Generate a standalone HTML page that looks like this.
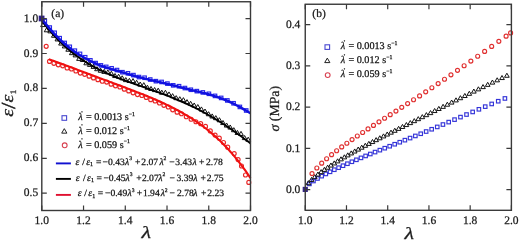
<!DOCTYPE html>
<html><head><meta charset="utf-8"><style>
html,body{margin:0;padding:0;background:#fff;width:520px;height:240px;overflow:hidden}
svg{display:block}
text{stroke:#1a1a1a;stroke-width:0.25px;paint-order:stroke;text-rendering:geometricPrecision}
</style></head><body>
<svg width="520" height="240" viewBox="0 0 520 240"><rect width="520" height="240" fill="#fff"/><g><rect x="43.05" y="19.27" width="3.5" height="3.5" fill="none" stroke="#2828e8" stroke-width="1.15"/><rect x="47.97" y="25.81" width="3.5" height="3.5" fill="none" stroke="#2828e8" stroke-width="1.15"/><rect x="52.92" y="31.04" width="3.5" height="3.5" fill="none" stroke="#2828e8" stroke-width="1.15"/><rect x="57.92" y="36.42" width="3.5" height="3.5" fill="none" stroke="#2828e8" stroke-width="1.15"/><rect x="62.94" y="41.22" width="3.5" height="3.5" fill="none" stroke="#2828e8" stroke-width="1.15"/><rect x="68.00" y="45.06" width="3.5" height="3.5" fill="none" stroke="#2828e8" stroke-width="1.15"/><rect x="73.10" y="48.93" width="3.5" height="3.5" fill="none" stroke="#2828e8" stroke-width="1.15"/><rect x="78.24" y="52.15" width="3.5" height="3.5" fill="none" stroke="#2828e8" stroke-width="1.15"/><rect x="83.41" y="55.50" width="3.5" height="3.5" fill="none" stroke="#2828e8" stroke-width="1.15"/><rect x="88.62" y="58.57" width="3.5" height="3.5" fill="none" stroke="#2828e8" stroke-width="1.15"/><rect x="93.87" y="61.34" width="3.5" height="3.5" fill="none" stroke="#2828e8" stroke-width="1.15"/><rect x="99.16" y="63.63" width="3.5" height="3.5" fill="none" stroke="#2828e8" stroke-width="1.15"/><rect x="104.48" y="65.14" width="3.5" height="3.5" fill="none" stroke="#2828e8" stroke-width="1.15"/><rect x="109.84" y="66.55" width="3.5" height="3.5" fill="none" stroke="#2828e8" stroke-width="1.15"/><rect x="115.25" y="68.32" width="3.5" height="3.5" fill="none" stroke="#2828e8" stroke-width="1.15"/><rect x="120.69" y="70.46" width="3.5" height="3.5" fill="none" stroke="#2828e8" stroke-width="1.15"/><rect x="126.17" y="71.56" width="3.5" height="3.5" fill="none" stroke="#2828e8" stroke-width="1.15"/><rect x="131.68" y="73.37" width="3.5" height="3.5" fill="none" stroke="#2828e8" stroke-width="1.15"/><rect x="137.24" y="75.30" width="3.5" height="3.5" fill="none" stroke="#2828e8" stroke-width="1.15"/><rect x="142.84" y="75.99" width="3.5" height="3.5" fill="none" stroke="#2828e8" stroke-width="1.15"/><rect x="148.48" y="77.78" width="3.5" height="3.5" fill="none" stroke="#2828e8" stroke-width="1.15"/><rect x="154.16" y="79.42" width="3.5" height="3.5" fill="none" stroke="#2828e8" stroke-width="1.15"/><rect x="159.88" y="80.21" width="3.5" height="3.5" fill="none" stroke="#2828e8" stroke-width="1.15"/><rect x="165.64" y="81.86" width="3.5" height="3.5" fill="none" stroke="#2828e8" stroke-width="1.15"/><rect x="171.45" y="83.59" width="3.5" height="3.5" fill="none" stroke="#2828e8" stroke-width="1.15"/><rect x="177.29" y="84.47" width="3.5" height="3.5" fill="none" stroke="#2828e8" stroke-width="1.15"/><rect x="183.18" y="86.31" width="3.5" height="3.5" fill="none" stroke="#2828e8" stroke-width="1.15"/><rect x="189.11" y="88.01" width="3.5" height="3.5" fill="none" stroke="#2828e8" stroke-width="1.15"/><rect x="195.08" y="89.39" width="3.5" height="3.5" fill="none" stroke="#2828e8" stroke-width="1.15"/><rect x="201.10" y="90.67" width="3.5" height="3.5" fill="none" stroke="#2828e8" stroke-width="1.15"/><rect x="207.16" y="92.05" width="3.5" height="3.5" fill="none" stroke="#2828e8" stroke-width="1.15"/><rect x="213.26" y="94.14" width="3.5" height="3.5" fill="none" stroke="#2828e8" stroke-width="1.15"/><rect x="219.41" y="96.17" width="3.5" height="3.5" fill="none" stroke="#2828e8" stroke-width="1.15"/><rect x="225.60" y="98.68" width="3.5" height="3.5" fill="none" stroke="#2828e8" stroke-width="1.15"/><rect x="231.83" y="101.52" width="3.5" height="3.5" fill="none" stroke="#2828e8" stroke-width="1.15"/><rect x="238.12" y="105.18" width="3.5" height="3.5" fill="none" stroke="#2828e8" stroke-width="1.15"/><rect x="244.44" y="108.73" width="3.5" height="3.5" fill="none" stroke="#2828e8" stroke-width="1.15"/><path d="M43.00,22.51 L45.35,26.58 L40.65,26.58 Z" fill="none" stroke="#111" stroke-width="1.0"/><path d="M46.60,27.73 L48.95,31.80 L44.25,31.80 Z" fill="none" stroke="#111" stroke-width="1.0"/><path d="M50.20,28.79 L52.55,32.86 L47.85,32.86 Z" fill="none" stroke="#111" stroke-width="1.0"/><path d="M53.80,33.19 L56.15,37.26 L51.45,37.26 Z" fill="none" stroke="#111" stroke-width="1.0"/><path d="M57.40,36.85 L59.75,40.92 L55.05,40.92 Z" fill="none" stroke="#111" stroke-width="1.0"/><path d="M61.00,40.99 L63.35,45.06 L58.65,45.06 Z" fill="none" stroke="#111" stroke-width="1.0"/><path d="M64.60,43.84 L66.95,47.91 L62.25,47.91 Z" fill="none" stroke="#111" stroke-width="1.0"/><path d="M68.20,47.16 L70.55,51.23 L65.85,51.23 Z" fill="none" stroke="#111" stroke-width="1.0"/><path d="M71.80,50.59 L74.15,54.66 L69.45,54.66 Z" fill="none" stroke="#111" stroke-width="1.0"/><path d="M75.40,52.82 L77.75,56.89 L73.05,56.89 Z" fill="none" stroke="#111" stroke-width="1.0"/><path d="M79.00,56.31 L81.35,60.38 L76.65,60.38 Z" fill="none" stroke="#111" stroke-width="1.0"/><path d="M82.60,57.44 L84.95,61.51 L80.25,61.51 Z" fill="none" stroke="#111" stroke-width="1.0"/><path d="M86.20,60.74 L88.55,64.81 L83.85,64.81 Z" fill="none" stroke="#111" stroke-width="1.0"/><path d="M89.80,62.32 L92.15,66.39 L87.45,66.39 Z" fill="none" stroke="#111" stroke-width="1.0"/><path d="M93.40,64.35 L95.75,68.42 L91.05,68.42 Z" fill="none" stroke="#111" stroke-width="1.0"/><path d="M97.00,66.64 L99.35,70.71 L94.65,70.71 Z" fill="none" stroke="#111" stroke-width="1.0"/><path d="M100.60,68.18 L102.95,72.25 L98.25,72.25 Z" fill="none" stroke="#111" stroke-width="1.0"/><path d="M104.20,69.35 L106.55,73.42 L101.85,73.42 Z" fill="none" stroke="#111" stroke-width="1.0"/><path d="M107.80,69.87 L110.15,73.94 L105.45,73.94 Z" fill="none" stroke="#111" stroke-width="1.0"/><path d="M111.40,71.23 L113.75,75.30 L109.05,75.30 Z" fill="none" stroke="#111" stroke-width="1.0"/><path d="M115.00,73.48 L117.35,77.55 L112.65,77.55 Z" fill="none" stroke="#111" stroke-width="1.0"/><path d="M118.60,74.21 L120.95,78.28 L116.25,78.28 Z" fill="none" stroke="#111" stroke-width="1.0"/><path d="M122.20,75.76 L124.55,79.83 L119.85,79.83 Z" fill="none" stroke="#111" stroke-width="1.0"/><path d="M125.80,77.57 L128.15,81.64 L123.45,81.64 Z" fill="none" stroke="#111" stroke-width="1.0"/><path d="M129.40,78.39 L131.75,82.46 L127.05,82.46 Z" fill="none" stroke="#111" stroke-width="1.0"/><path d="M133.00,78.54 L135.35,82.61 L130.65,82.61 Z" fill="none" stroke="#111" stroke-width="1.0"/><path d="M136.60,80.26 L138.95,84.33 L134.25,84.33 Z" fill="none" stroke="#111" stroke-width="1.0"/><path d="M140.20,82.03 L142.55,86.10 L137.85,86.10 Z" fill="none" stroke="#111" stroke-width="1.0"/><path d="M143.80,82.64 L146.15,86.71 L141.45,86.71 Z" fill="none" stroke="#111" stroke-width="1.0"/><path d="M147.40,85.20 L149.75,89.27 L145.05,89.27 Z" fill="none" stroke="#111" stroke-width="1.0"/><path d="M151.00,86.43 L153.35,90.50 L148.65,90.50 Z" fill="none" stroke="#111" stroke-width="1.0"/><path d="M154.60,87.53 L156.95,91.60 L152.25,91.60 Z" fill="none" stroke="#111" stroke-width="1.0"/><path d="M158.20,88.15 L160.55,92.22 L155.85,92.22 Z" fill="none" stroke="#111" stroke-width="1.0"/><path d="M161.80,90.14 L164.15,94.21 L159.45,94.21 Z" fill="none" stroke="#111" stroke-width="1.0"/><path d="M165.40,90.22 L167.75,94.29 L163.05,94.29 Z" fill="none" stroke="#111" stroke-width="1.0"/><path d="M169.00,91.93 L171.35,96.00 L166.65,96.00 Z" fill="none" stroke="#111" stroke-width="1.0"/><path d="M172.60,93.64 L174.95,97.71 L170.25,97.71 Z" fill="none" stroke="#111" stroke-width="1.0"/><path d="M176.20,95.61 L178.55,99.68 L173.85,99.68 Z" fill="none" stroke="#111" stroke-width="1.0"/><path d="M179.80,96.68 L182.15,100.75 L177.45,100.75 Z" fill="none" stroke="#111" stroke-width="1.0"/><path d="M183.40,97.62 L185.75,101.69 L181.05,101.69 Z" fill="none" stroke="#111" stroke-width="1.0"/><path d="M187.00,99.62 L189.35,103.69 L184.65,103.69 Z" fill="none" stroke="#111" stroke-width="1.0"/><path d="M190.60,101.27 L192.95,105.34 L188.25,105.34 Z" fill="none" stroke="#111" stroke-width="1.0"/><path d="M194.20,102.98 L196.55,107.05 L191.85,107.05 Z" fill="none" stroke="#111" stroke-width="1.0"/><path d="M197.80,104.54 L200.15,108.61 L195.45,108.61 Z" fill="none" stroke="#111" stroke-width="1.0"/><path d="M201.40,106.90 L203.75,110.97 L199.05,110.97 Z" fill="none" stroke="#111" stroke-width="1.0"/><path d="M205.00,109.00 L207.35,113.07 L202.65,113.07 Z" fill="none" stroke="#111" stroke-width="1.0"/><path d="M208.60,111.69 L210.95,115.76 L206.25,115.76 Z" fill="none" stroke="#111" stroke-width="1.0"/><path d="M212.20,113.90 L214.55,117.97 L209.85,117.97 Z" fill="none" stroke="#111" stroke-width="1.0"/><path d="M215.80,115.62 L218.15,119.69 L213.45,119.69 Z" fill="none" stroke="#111" stroke-width="1.0"/><path d="M219.40,117.68 L221.75,121.75 L217.05,121.75 Z" fill="none" stroke="#111" stroke-width="1.0"/><path d="M223.00,120.48 L225.35,124.55 L220.65,124.55 Z" fill="none" stroke="#111" stroke-width="1.0"/><path d="M226.60,122.99 L228.95,127.06 L224.25,127.06 Z" fill="none" stroke="#111" stroke-width="1.0"/><path d="M230.20,124.98 L232.55,129.05 L227.85,129.05 Z" fill="none" stroke="#111" stroke-width="1.0"/><path d="M233.80,127.65 L236.15,131.72 L231.45,131.72 Z" fill="none" stroke="#111" stroke-width="1.0"/><path d="M237.40,130.42 L239.75,134.49 L235.05,134.49 Z" fill="none" stroke="#111" stroke-width="1.0"/><path d="M241.00,131.38 L243.35,135.45 L238.65,135.45 Z" fill="none" stroke="#111" stroke-width="1.0"/><path d="M244.60,135.53 L246.95,139.60 L242.25,139.60 Z" fill="none" stroke="#111" stroke-width="1.0"/><path d="M248.20,137.15 L250.55,141.22 L245.85,141.22 Z" fill="none" stroke="#111" stroke-width="1.0"/><circle cx="49.50" cy="61.43" r="2.0" fill="none" stroke="#e82828" stroke-width="1.15"/><circle cx="53.90" cy="63.31" r="2.0" fill="none" stroke="#e82828" stroke-width="1.15"/><circle cx="58.30" cy="64.82" r="2.0" fill="none" stroke="#e82828" stroke-width="1.15"/><circle cx="62.70" cy="65.86" r="2.0" fill="none" stroke="#e82828" stroke-width="1.15"/><circle cx="67.10" cy="67.99" r="2.0" fill="none" stroke="#e82828" stroke-width="1.15"/><circle cx="71.50" cy="69.04" r="2.0" fill="none" stroke="#e82828" stroke-width="1.15"/><circle cx="75.90" cy="70.96" r="2.0" fill="none" stroke="#e82828" stroke-width="1.15"/><circle cx="80.30" cy="73.06" r="2.0" fill="none" stroke="#e82828" stroke-width="1.15"/><circle cx="84.70" cy="74.32" r="2.0" fill="none" stroke="#e82828" stroke-width="1.15"/><circle cx="89.10" cy="76.14" r="2.0" fill="none" stroke="#e82828" stroke-width="1.15"/><circle cx="93.50" cy="77.91" r="2.0" fill="none" stroke="#e82828" stroke-width="1.15"/><circle cx="97.90" cy="79.64" r="2.0" fill="none" stroke="#e82828" stroke-width="1.15"/><circle cx="102.30" cy="81.21" r="2.0" fill="none" stroke="#e82828" stroke-width="1.15"/><circle cx="106.70" cy="82.09" r="2.0" fill="none" stroke="#e82828" stroke-width="1.15"/><circle cx="111.10" cy="84.14" r="2.0" fill="none" stroke="#e82828" stroke-width="1.15"/><circle cx="115.50" cy="85.81" r="2.0" fill="none" stroke="#e82828" stroke-width="1.15"/><circle cx="119.90" cy="87.04" r="2.0" fill="none" stroke="#e82828" stroke-width="1.15"/><circle cx="124.30" cy="89.17" r="2.0" fill="none" stroke="#e82828" stroke-width="1.15"/><circle cx="128.70" cy="90.90" r="2.0" fill="none" stroke="#e82828" stroke-width="1.15"/><circle cx="133.10" cy="92.80" r="2.0" fill="none" stroke="#e82828" stroke-width="1.15"/><circle cx="137.50" cy="94.61" r="2.0" fill="none" stroke="#e82828" stroke-width="1.15"/><circle cx="141.90" cy="95.52" r="2.0" fill="none" stroke="#e82828" stroke-width="1.15"/><circle cx="146.30" cy="97.39" r="2.0" fill="none" stroke="#e82828" stroke-width="1.15"/><circle cx="150.70" cy="99.63" r="2.0" fill="none" stroke="#e82828" stroke-width="1.15"/><circle cx="155.10" cy="100.97" r="2.0" fill="none" stroke="#e82828" stroke-width="1.15"/><circle cx="159.50" cy="102.98" r="2.0" fill="none" stroke="#e82828" stroke-width="1.15"/><circle cx="163.90" cy="105.33" r="2.0" fill="none" stroke="#e82828" stroke-width="1.15"/><circle cx="168.30" cy="107.01" r="2.0" fill="none" stroke="#e82828" stroke-width="1.15"/><circle cx="172.70" cy="109.80" r="2.0" fill="none" stroke="#e82828" stroke-width="1.15"/><circle cx="177.10" cy="112.16" r="2.0" fill="none" stroke="#e82828" stroke-width="1.15"/><circle cx="181.50" cy="113.74" r="2.0" fill="none" stroke="#e82828" stroke-width="1.15"/><circle cx="186.30" cy="116.79" r="2.0" fill="none" stroke="#e82828" stroke-width="1.15"/><circle cx="191.10" cy="119.22" r="2.0" fill="none" stroke="#e82828" stroke-width="1.15"/><circle cx="195.90" cy="121.76" r="2.0" fill="none" stroke="#e82828" stroke-width="1.15"/><circle cx="200.70" cy="123.64" r="2.0" fill="none" stroke="#e82828" stroke-width="1.15"/><circle cx="205.50" cy="126.43" r="2.0" fill="none" stroke="#e82828" stroke-width="1.15"/><circle cx="210.30" cy="130.94" r="2.0" fill="none" stroke="#e82828" stroke-width="1.15"/><circle cx="215.10" cy="135.06" r="2.0" fill="none" stroke="#e82828" stroke-width="1.15"/><circle cx="219.30" cy="138.19" r="2.0" fill="none" stroke="#e82828" stroke-width="1.15"/><circle cx="223.50" cy="142.52" r="2.0" fill="none" stroke="#e82828" stroke-width="1.15"/><circle cx="227.70" cy="147.15" r="2.0" fill="none" stroke="#e82828" stroke-width="1.15"/><circle cx="46.20" cy="46.30" r="2.0" fill="none" stroke="#e82828" stroke-width="1.15"/><circle cx="234.20" cy="153.60" r="2.0" fill="none" stroke="#e82828" stroke-width="1.15"/><circle cx="238.10" cy="159.60" r="2.0" fill="none" stroke="#e82828" stroke-width="1.15"/><circle cx="241.50" cy="166.00" r="2.0" fill="none" stroke="#e82828" stroke-width="1.15"/><circle cx="245.50" cy="175.00" r="2.0" fill="none" stroke="#e82828" stroke-width="1.15"/><circle cx="248.80" cy="182.40" r="2.0" fill="none" stroke="#e82828" stroke-width="1.15"/></g><path d="M41.80,20.51 L43.55,22.86 L45.31,25.14 L47.06,27.35 L48.82,29.49 L50.57,31.57 L52.32,33.58 L54.08,35.54 L55.83,37.43 L57.58,39.27 L59.34,41.05 L61.09,42.78 L62.85,44.45 L64.60,46.07 L66.35,47.64 L68.11,49.17 L69.86,50.64 L71.61,52.07 L73.37,53.46 L75.12,54.80 L76.88,56.10 L78.63,57.36 L80.38,58.58 L82.14,59.77 L83.89,60.92 L85.64,62.03 L87.40,63.11 L89.15,64.16 L90.91,65.18 L92.66,66.17 L94.41,67.13 L96.17,68.06 L97.92,68.97 L99.67,69.86 L101.43,70.72 L103.18,71.56 L104.94,72.37 L106.69,73.17 L108.44,73.95 L110.20,74.71 L111.95,75.45 L113.71,76.18 L115.46,76.90 L117.21,77.60 L118.97,78.29 L120.72,78.96 L122.47,79.63 L124.23,80.28 L125.98,80.93 L127.74,81.57 L129.49,82.21 L131.24,82.83 L133.00,83.46 L134.75,84.07 L136.50,84.69 L138.26,85.30 L140.01,85.91 L141.77,86.52 L143.52,87.13 L145.27,87.74 L147.03,88.35 L148.78,88.96 L150.53,89.58 L152.29,90.20 L154.04,90.82 L155.80,91.45 L157.55,92.08 L159.30,92.72 L161.06,93.37 L162.81,94.02 L164.56,94.68 L166.32,95.35 L168.07,96.02 L169.83,96.71 L171.58,97.41 L173.33,98.11 L175.09,98.83 L176.84,99.56 L178.59,100.30 L180.35,101.05 L182.10,101.81 L183.86,102.59 L185.61,103.38 L187.36,104.19 L189.12,105.00 L190.87,105.83 L192.63,106.68 L194.38,107.54 L196.13,108.41 L197.89,109.30 L199.64,110.21 L201.39,111.13 L203.15,112.07 L204.90,113.02 L206.66,113.99 L208.41,114.97 L210.16,115.97 L211.92,116.99 L213.67,118.03 L215.42,119.08 L217.18,120.14 L218.93,121.23 L220.69,122.33 L222.44,123.44 L224.19,124.58 L225.95,125.73 L227.70,126.89 L229.45,128.08 L231.21,129.28 L232.96,130.49 L234.72,131.72 L236.47,132.97 L238.22,134.23 L239.98,135.51 L241.73,136.81 L243.48,138.12 L245.24,139.44 L246.99,140.78 L248.75,142.14 L250.50,143.50" fill="none" stroke="#000" stroke-width="1.8"/><path d="M49.00,59.30 L50.69,59.89 L52.39,60.49 L54.08,61.10 L55.77,61.71 L57.47,62.32 L59.16,62.94 L60.85,63.56 L62.55,64.18 L64.24,64.81 L65.93,65.44 L67.63,66.07 L69.32,66.70 L71.01,67.33 L72.71,67.96 L74.40,68.59 L76.09,69.23 L77.79,69.86 L79.48,70.50 L81.17,71.13 L82.87,71.77 L84.56,72.40 L86.25,73.04 L87.95,73.67 L89.64,74.31 L91.33,74.94 L93.03,75.58 L94.72,76.21 L96.41,76.84 L98.11,77.47 L99.80,78.11 L101.49,78.74 L103.18,79.37 L104.88,80.00 L106.57,80.63 L108.26,81.26 L109.96,81.89 L111.65,82.52 L113.34,83.15 L115.04,83.78 L116.73,84.41 L118.42,85.05 L120.12,85.68 L121.81,86.31 L123.50,86.95 L125.20,87.59 L126.89,88.23 L128.58,88.87 L130.28,89.51 L131.97,90.16 L133.66,90.81 L135.36,91.47 L137.05,92.13 L138.74,92.79 L140.44,93.45 L142.13,94.13 L143.82,94.80 L145.52,95.49 L147.21,96.18 L148.90,96.88 L150.60,97.58 L152.29,98.29 L153.98,99.01 L155.68,99.74 L157.37,100.48 L159.06,101.23 L160.76,101.99 L162.45,102.76 L164.14,103.54 L165.84,104.34 L167.53,105.14 L169.22,105.97 L170.92,106.80 L172.61,107.65 L174.30,108.52 L176.00,109.40 L177.69,110.30 L179.38,111.22 L181.08,112.16 L182.77,113.12 L184.46,114.09 L186.16,115.09 L187.85,116.11 L189.54,117.15 L191.24,118.22 L192.93,119.31 L194.62,120.43 L196.32,121.57 L198.01,122.74 L199.70,123.94 L201.39,125.16 L203.09,126.42 L204.78,127.71 L206.47,129.03 L208.17,130.38 L209.86,131.77 L211.55,133.19 L213.25,134.65 L214.94,136.14 L216.63,137.68 L218.33,139.25 L220.02,140.86 L221.71,142.52 L223.41,144.22 L225.10,145.96 L226.79,147.74 L228.49,149.58 L230.18,151.46 L231.87,153.39 L233.57,155.37 L235.26,157.40 L236.95,159.48 L238.65,161.62 L240.34,163.81 L242.03,166.06 L243.73,168.37 L245.42,170.73 L247.11,173.16 L248.81,175.65 L250.50,178.20" fill="none" stroke="#f01010" stroke-width="2.1"/><path d="M41.80,18.70 L43.55,21.11 L45.31,23.39 L47.06,25.55 L48.82,27.63 L50.57,29.65 L52.32,31.61 L54.08,33.52 L55.83,35.38 L57.58,37.21 L59.34,38.97 L61.09,40.62 L62.85,42.22 L64.60,43.77 L66.35,45.26 L68.11,46.71 L69.86,48.09 L71.61,49.43 L73.37,50.72 L75.12,51.97 L76.88,53.18 L78.63,54.33 L80.38,55.44 L82.14,56.50 L83.89,57.53 L85.64,58.51 L87.40,59.46 L89.15,60.37 L90.91,61.25 L92.66,62.10 L94.41,62.93 L96.17,63.72 L97.92,64.48 L99.67,65.18 L101.43,65.83 L103.18,66.45 L104.94,67.04 L106.69,67.61 L108.44,68.16 L110.20,68.70 L111.95,69.22 L113.71,69.74 L115.46,70.26 L117.21,70.77 L118.97,71.29 L120.72,71.82 L122.47,72.35 L124.23,72.88 L125.98,73.41 L127.74,73.93 L129.49,74.45 L131.24,74.97 L133.00,75.48 L134.75,75.98 L136.50,76.46 L138.26,76.94 L140.01,77.40 L141.77,77.85 L143.52,78.27 L145.27,78.69 L147.03,79.10 L148.78,79.51 L150.53,79.93 L152.29,80.35 L154.04,80.77 L155.80,81.18 L157.55,81.60 L159.30,82.02 L161.06,82.43 L162.81,82.85 L164.56,83.27 L166.32,83.70 L168.07,84.13 L169.83,84.56 L171.58,84.99 L173.33,85.43 L175.09,85.88 L176.84,86.33 L178.59,86.78 L180.35,87.23 L182.10,87.68 L183.86,88.13 L185.61,88.58 L187.36,89.03 L189.12,89.48 L190.87,89.92 L192.63,90.35 L194.38,90.77 L196.13,91.19 L197.89,91.60 L199.64,92.01 L201.39,92.44 L203.15,92.87 L204.90,93.31 L206.66,93.77 L208.41,94.25 L210.16,94.75 L211.92,95.27 L213.67,95.82 L215.42,96.38 L217.18,96.97 L218.93,97.57 L220.69,98.20 L222.44,98.85 L224.19,99.53 L225.95,100.23 L227.70,100.97 L229.45,101.76 L231.21,102.59 L232.96,103.45 L234.72,104.34 L236.47,105.24 L238.22,106.17 L239.98,107.11 L241.73,108.08 L243.48,109.08 L245.24,110.10 L246.99,111.14 L248.75,112.21 L250.50,113.30" fill="none" stroke="#1010e0" stroke-width="2.5"/><rect x="39.30" y="16.20" width="4.6" height="4.6" fill="#2a1a88" stroke="#2a1a88" stroke-width="1.15"/><rect x="307.65" y="182.16" width="3.5" height="3.5" fill="none" stroke="#3434d8" stroke-width="1.15"/><rect x="311.69" y="179.26" width="3.5" height="3.5" fill="none" stroke="#3434d8" stroke-width="1.15"/><rect x="315.77" y="176.73" width="3.5" height="3.5" fill="none" stroke="#3434d8" stroke-width="1.15"/><rect x="319.90" y="174.40" width="3.5" height="3.5" fill="none" stroke="#3434d8" stroke-width="1.15"/><rect x="324.07" y="172.19" width="3.5" height="3.5" fill="none" stroke="#3434d8" stroke-width="1.15"/><rect x="328.29" y="170.06" width="3.5" height="3.5" fill="none" stroke="#3434d8" stroke-width="1.15"/><rect x="332.56" y="167.98" width="3.5" height="3.5" fill="none" stroke="#3434d8" stroke-width="1.15"/><rect x="336.88" y="165.95" width="3.5" height="3.5" fill="none" stroke="#3434d8" stroke-width="1.15"/><rect x="341.24" y="163.95" width="3.5" height="3.5" fill="none" stroke="#3434d8" stroke-width="1.15"/><rect x="345.66" y="161.97" width="3.5" height="3.5" fill="none" stroke="#3434d8" stroke-width="1.15"/><rect x="350.13" y="160.01" width="3.5" height="3.5" fill="none" stroke="#3434d8" stroke-width="1.15"/><rect x="354.65" y="158.06" width="3.5" height="3.5" fill="none" stroke="#3434d8" stroke-width="1.15"/><rect x="359.23" y="156.13" width="3.5" height="3.5" fill="none" stroke="#3434d8" stroke-width="1.15"/><rect x="363.86" y="154.19" width="3.5" height="3.5" fill="none" stroke="#3434d8" stroke-width="1.15"/><rect x="368.55" y="152.26" width="3.5" height="3.5" fill="none" stroke="#3434d8" stroke-width="1.15"/><rect x="373.30" y="150.33" width="3.5" height="3.5" fill="none" stroke="#3434d8" stroke-width="1.15"/><rect x="378.11" y="148.39" width="3.5" height="3.5" fill="none" stroke="#3434d8" stroke-width="1.15"/><rect x="382.98" y="146.44" width="3.5" height="3.5" fill="none" stroke="#3434d8" stroke-width="1.15"/><rect x="387.92" y="144.47" width="3.5" height="3.5" fill="none" stroke="#3434d8" stroke-width="1.15"/><rect x="392.92" y="142.48" width="3.5" height="3.5" fill="none" stroke="#3434d8" stroke-width="1.15"/><rect x="397.99" y="140.46" width="3.5" height="3.5" fill="none" stroke="#3434d8" stroke-width="1.15"/><rect x="403.13" y="138.41" width="3.5" height="3.5" fill="none" stroke="#3434d8" stroke-width="1.15"/><rect x="408.33" y="136.32" width="3.5" height="3.5" fill="none" stroke="#3434d8" stroke-width="1.15"/><rect x="413.61" y="134.19" width="3.5" height="3.5" fill="none" stroke="#3434d8" stroke-width="1.15"/><rect x="418.97" y="132.01" width="3.5" height="3.5" fill="none" stroke="#3434d8" stroke-width="1.15"/><rect x="424.40" y="129.78" width="3.5" height="3.5" fill="none" stroke="#3434d8" stroke-width="1.15"/><rect x="429.91" y="127.50" width="3.5" height="3.5" fill="none" stroke="#3434d8" stroke-width="1.15"/><rect x="435.50" y="125.17" width="3.5" height="3.5" fill="none" stroke="#3434d8" stroke-width="1.15"/><rect x="441.18" y="122.79" width="3.5" height="3.5" fill="none" stroke="#3434d8" stroke-width="1.15"/><rect x="446.94" y="120.35" width="3.5" height="3.5" fill="none" stroke="#3434d8" stroke-width="1.15"/><rect x="452.79" y="117.88" width="3.5" height="3.5" fill="none" stroke="#3434d8" stroke-width="1.15"/><rect x="458.73" y="115.35" width="3.5" height="3.5" fill="none" stroke="#3434d8" stroke-width="1.15"/><rect x="464.77" y="112.79" width="3.5" height="3.5" fill="none" stroke="#3434d8" stroke-width="1.15"/><rect x="470.90" y="110.19" width="3.5" height="3.5" fill="none" stroke="#3434d8" stroke-width="1.15"/><rect x="477.14" y="107.56" width="3.5" height="3.5" fill="none" stroke="#3434d8" stroke-width="1.15"/><rect x="483.48" y="104.89" width="3.5" height="3.5" fill="none" stroke="#3434d8" stroke-width="1.15"/><rect x="489.93" y="102.20" width="3.5" height="3.5" fill="none" stroke="#3434d8" stroke-width="1.15"/><rect x="496.49" y="99.47" width="3.5" height="3.5" fill="none" stroke="#3434d8" stroke-width="1.15"/><rect x="503.16" y="96.71" width="3.5" height="3.5" fill="none" stroke="#3434d8" stroke-width="1.15"/><path d="M308.40,180.68 L310.75,184.75 L306.05,184.75 Z" fill="none" stroke="#111" stroke-width="1.0"/><path d="M311.55,177.38 L313.90,181.45 L309.20,181.45 Z" fill="none" stroke="#111" stroke-width="1.0"/><path d="M314.73,174.58 L317.08,178.65 L312.38,178.65 Z" fill="none" stroke="#111" stroke-width="1.0"/><path d="M317.93,172.02 L320.28,176.09 L315.58,176.09 Z" fill="none" stroke="#111" stroke-width="1.0"/><path d="M321.15,169.62 L323.50,173.70 L318.80,173.70 Z" fill="none" stroke="#111" stroke-width="1.0"/><path d="M324.39,167.33 L326.74,171.40 L322.04,171.40 Z" fill="none" stroke="#111" stroke-width="1.0"/><path d="M327.66,165.12 L330.01,169.19 L325.31,169.19 Z" fill="none" stroke="#111" stroke-width="1.0"/><path d="M330.95,162.98 L333.30,167.05 L328.60,167.05 Z" fill="none" stroke="#111" stroke-width="1.0"/><path d="M334.27,160.88 L336.62,164.95 L331.92,164.95 Z" fill="none" stroke="#111" stroke-width="1.0"/><path d="M337.61,158.82 L339.96,162.89 L335.26,162.89 Z" fill="none" stroke="#111" stroke-width="1.0"/><path d="M340.98,156.80 L343.33,160.87 L338.63,160.87 Z" fill="none" stroke="#111" stroke-width="1.0"/><path d="M344.37,154.80 L346.72,158.87 L342.02,158.87 Z" fill="none" stroke="#111" stroke-width="1.0"/><path d="M347.79,152.83 L350.14,156.90 L345.44,156.90 Z" fill="none" stroke="#111" stroke-width="1.0"/><path d="M351.23,150.88 L353.58,154.95 L348.88,154.95 Z" fill="none" stroke="#111" stroke-width="1.0"/><path d="M354.71,148.95 L357.06,153.02 L352.36,153.02 Z" fill="none" stroke="#111" stroke-width="1.0"/><path d="M358.21,147.03 L360.56,151.10 L355.86,151.10 Z" fill="none" stroke="#111" stroke-width="1.0"/><path d="M361.73,145.13 L364.08,149.20 L359.38,149.20 Z" fill="none" stroke="#111" stroke-width="1.0"/><path d="M365.29,143.24 L367.64,147.31 L362.94,147.31 Z" fill="none" stroke="#111" stroke-width="1.0"/><path d="M368.87,141.35 L371.22,145.42 L366.52,145.42 Z" fill="none" stroke="#111" stroke-width="1.0"/><path d="M372.48,139.48 L374.83,143.55 L370.13,143.55 Z" fill="none" stroke="#111" stroke-width="1.0"/><path d="M376.12,137.60 L378.47,141.67 L373.77,141.67 Z" fill="none" stroke="#111" stroke-width="1.0"/><path d="M379.80,135.73 L382.15,139.80 L377.45,139.80 Z" fill="none" stroke="#111" stroke-width="1.0"/><path d="M383.50,133.86 L385.85,137.93 L381.15,137.93 Z" fill="none" stroke="#111" stroke-width="1.0"/><path d="M387.23,131.98 L389.58,136.05 L384.88,136.05 Z" fill="none" stroke="#111" stroke-width="1.0"/><path d="M391.00,130.10 L393.35,134.17 L388.65,134.17 Z" fill="none" stroke="#111" stroke-width="1.0"/><path d="M394.79,128.22 L397.14,132.29 L392.44,132.29 Z" fill="none" stroke="#111" stroke-width="1.0"/><path d="M398.62,126.32 L400.97,130.39 L396.27,130.39 Z" fill="none" stroke="#111" stroke-width="1.0"/><path d="M402.49,124.41 L404.84,128.48 L400.14,128.48 Z" fill="none" stroke="#111" stroke-width="1.0"/><path d="M406.38,122.49 L408.73,126.56 L404.03,126.56 Z" fill="none" stroke="#111" stroke-width="1.0"/><path d="M410.31,120.55 L412.66,124.62 L407.96,124.62 Z" fill="none" stroke="#111" stroke-width="1.0"/><path d="M414.28,118.59 L416.63,122.66 L411.93,122.66 Z" fill="none" stroke="#111" stroke-width="1.0"/><path d="M418.28,116.61 L420.63,120.68 L415.93,120.68 Z" fill="none" stroke="#111" stroke-width="1.0"/><path d="M422.32,114.61 L424.67,118.68 L419.97,118.68 Z" fill="none" stroke="#111" stroke-width="1.0"/><path d="M426.39,112.59 L428.74,116.66 L424.04,116.66 Z" fill="none" stroke="#111" stroke-width="1.0"/><path d="M430.50,110.55 L432.85,114.62 L428.15,114.62 Z" fill="none" stroke="#111" stroke-width="1.0"/><path d="M434.65,108.48 L437.00,112.55 L432.30,112.55 Z" fill="none" stroke="#111" stroke-width="1.0"/><path d="M438.84,106.40 L441.19,110.47 L436.49,110.47 Z" fill="none" stroke="#111" stroke-width="1.0"/><path d="M443.07,104.29 L445.42,108.36 L440.72,108.36 Z" fill="none" stroke="#111" stroke-width="1.0"/><path d="M447.34,102.16 L449.69,106.23 L444.99,106.23 Z" fill="none" stroke="#111" stroke-width="1.0"/><path d="M451.65,100.01 L454.00,104.08 L449.30,104.08 Z" fill="none" stroke="#111" stroke-width="1.0"/><path d="M456.00,97.84 L458.35,101.91 L453.65,101.91 Z" fill="none" stroke="#111" stroke-width="1.0"/><path d="M460.39,95.66 L462.74,99.73 L458.04,99.73 Z" fill="none" stroke="#111" stroke-width="1.0"/><path d="M464.83,93.46 L467.18,97.53 L462.48,97.53 Z" fill="none" stroke="#111" stroke-width="1.0"/><path d="M469.31,91.25 L471.66,95.32 L466.96,95.32 Z" fill="none" stroke="#111" stroke-width="1.0"/><path d="M473.84,89.03 L476.19,93.10 L471.49,93.10 Z" fill="none" stroke="#111" stroke-width="1.0"/><path d="M478.42,86.79 L480.77,90.86 L476.07,90.86 Z" fill="none" stroke="#111" stroke-width="1.0"/><path d="M483.04,84.55 L485.39,88.62 L480.69,88.62 Z" fill="none" stroke="#111" stroke-width="1.0"/><path d="M487.71,82.30 L490.06,86.37 L485.36,86.37 Z" fill="none" stroke="#111" stroke-width="1.0"/><path d="M492.43,80.04 L494.78,84.11 L490.08,84.11 Z" fill="none" stroke="#111" stroke-width="1.0"/><path d="M497.20,77.77 L499.55,81.84 L494.85,81.84 Z" fill="none" stroke="#111" stroke-width="1.0"/><path d="M502.02,75.49 L504.37,79.56 L499.67,79.56 Z" fill="none" stroke="#111" stroke-width="1.0"/><path d="M506.89,73.20 L509.24,77.27 L504.54,77.27 Z" fill="none" stroke="#111" stroke-width="1.0"/><circle cx="312.00" cy="173.60" r="2.0" fill="none" stroke="#e03030" stroke-width="1.15"/><circle cx="316.82" cy="168.00" r="2.0" fill="none" stroke="#e03030" stroke-width="1.15"/><circle cx="321.69" cy="163.18" r="2.0" fill="none" stroke="#e03030" stroke-width="1.15"/><circle cx="326.61" cy="158.79" r="2.0" fill="none" stroke="#e03030" stroke-width="1.15"/><circle cx="331.58" cy="154.67" r="2.0" fill="none" stroke="#e03030" stroke-width="1.15"/><circle cx="336.62" cy="150.74" r="2.0" fill="none" stroke="#e03030" stroke-width="1.15"/><circle cx="341.70" cy="146.94" r="2.0" fill="none" stroke="#e03030" stroke-width="1.15"/><circle cx="346.84" cy="143.23" r="2.0" fill="none" stroke="#e03030" stroke-width="1.15"/><circle cx="352.05" cy="139.59" r="2.0" fill="none" stroke="#e03030" stroke-width="1.15"/><circle cx="357.31" cy="136.01" r="2.0" fill="none" stroke="#e03030" stroke-width="1.15"/><circle cx="362.63" cy="132.45" r="2.0" fill="none" stroke="#e03030" stroke-width="1.15"/><circle cx="368.02" cy="128.91" r="2.0" fill="none" stroke="#e03030" stroke-width="1.15"/><circle cx="373.47" cy="125.38" r="2.0" fill="none" stroke="#e03030" stroke-width="1.15"/><circle cx="378.98" cy="121.84" r="2.0" fill="none" stroke="#e03030" stroke-width="1.15"/><circle cx="384.57" cy="118.28" r="2.0" fill="none" stroke="#e03030" stroke-width="1.15"/><circle cx="390.22" cy="114.69" r="2.0" fill="none" stroke="#e03030" stroke-width="1.15"/><circle cx="395.94" cy="111.06" r="2.0" fill="none" stroke="#e03030" stroke-width="1.15"/><circle cx="401.74" cy="107.37" r="2.0" fill="none" stroke="#e03030" stroke-width="1.15"/><circle cx="407.61" cy="103.62" r="2.0" fill="none" stroke="#e03030" stroke-width="1.15"/><circle cx="413.55" cy="99.79" r="2.0" fill="none" stroke="#e03030" stroke-width="1.15"/><circle cx="419.58" cy="95.88" r="2.0" fill="none" stroke="#e03030" stroke-width="1.15"/><circle cx="425.68" cy="91.87" r="2.0" fill="none" stroke="#e03030" stroke-width="1.15"/><circle cx="431.87" cy="87.77" r="2.0" fill="none" stroke="#e03030" stroke-width="1.15"/><circle cx="438.14" cy="83.57" r="2.0" fill="none" stroke="#e03030" stroke-width="1.15"/><circle cx="444.50" cy="79.27" r="2.0" fill="none" stroke="#e03030" stroke-width="1.15"/><circle cx="450.95" cy="74.87" r="2.0" fill="none" stroke="#e03030" stroke-width="1.15"/><circle cx="457.49" cy="70.36" r="2.0" fill="none" stroke="#e03030" stroke-width="1.15"/><circle cx="464.12" cy="65.76" r="2.0" fill="none" stroke="#e03030" stroke-width="1.15"/><circle cx="470.86" cy="61.06" r="2.0" fill="none" stroke="#e03030" stroke-width="1.15"/><circle cx="477.69" cy="56.27" r="2.0" fill="none" stroke="#e03030" stroke-width="1.15"/><circle cx="484.63" cy="51.38" r="2.0" fill="none" stroke="#e03030" stroke-width="1.15"/><circle cx="491.67" cy="46.40" r="2.0" fill="none" stroke="#e03030" stroke-width="1.15"/><circle cx="498.83" cy="41.32" r="2.0" fill="none" stroke="#e03030" stroke-width="1.15"/><circle cx="506.09" cy="36.13" r="2.0" fill="none" stroke="#e03030" stroke-width="1.15"/><circle cx="510.60" cy="32.89" r="2.0" fill="none" stroke="#e03030" stroke-width="1.15"/><rect x="303.25" y="187.40" width="4" height="4" fill="#302080" stroke="#302080" stroke-width="1.15"/><rect x="41.8" y="1.75" width="208.7" height="208.75" fill="none" stroke="#3a3a3a" stroke-width="1.4"/><rect x="305.25" y="4.25" width="206.14999999999998" height="206.05" fill="none" stroke="#3a3a3a" stroke-width="1.4"/><path d="M41.80,210.5 v-5 M41.80,1.75 v5 M305.25,210.3 v-5 M305.25,4.25 v5 M83.54,210.5 v-5 M83.54,1.75 v5 M346.48,210.3 v-5 M346.48,4.25 v5 M125.28,210.5 v-5 M125.28,1.75 v5 M387.71,210.3 v-5 M387.71,4.25 v5 M167.02,210.5 v-5 M167.02,1.75 v5 M428.94,210.3 v-5 M428.94,4.25 v5 M208.76,210.5 v-5 M208.76,1.75 v5 M470.17,210.3 v-5 M470.17,4.25 v5 M250.50,210.5 v-5 M250.50,1.75 v5 M511.40,210.3 v-5 M511.40,4.25 v5 M41.8,193.20 h5 M250.5,193.20 h-5 M41.8,158.28 h5 M250.5,158.28 h-5 M41.8,123.36 h5 M250.5,123.36 h-5 M41.8,88.44 h5 M250.5,88.44 h-5 M41.8,53.52 h5 M250.5,53.52 h-5 M41.8,18.60 h5 M250.5,18.60 h-5 M305.25,189.60 h5 M511.4,189.60 h-5 M305.25,148.35 h5 M511.4,148.35 h-5 M305.25,107.10 h5 M511.4,107.10 h-5 M305.25,65.85 h5 M511.4,65.85 h-5 M305.25,24.60 h5 M511.4,24.60 h-5" stroke="#3a3a3a" stroke-width="1.2" fill="none"/><g font-family="Liberation Serif, serif" font-size="11.5" fill="#1a1a1a"><text x="41.80" y="224.3" text-anchor="middle">1.0</text><text x="305.25" y="224.3" text-anchor="middle">1.0</text><text x="83.54" y="224.3" text-anchor="middle">1.2</text><text x="346.48" y="224.3" text-anchor="middle">1.2</text><text x="125.28" y="224.3" text-anchor="middle">1.4</text><text x="387.71" y="224.3" text-anchor="middle">1.4</text><text x="167.02" y="224.3" text-anchor="middle">1.6</text><text x="428.94" y="224.3" text-anchor="middle">1.6</text><text x="208.76" y="224.3" text-anchor="middle">1.8</text><text x="470.17" y="224.3" text-anchor="middle">1.8</text><text x="250.50" y="224.3" text-anchor="middle">2.0</text><text x="511.40" y="224.3" text-anchor="middle">2.0</text><text x="38.2" y="196.20" text-anchor="end">0.5</text><text x="38.2" y="161.28" text-anchor="end">0.6</text><text x="38.2" y="126.36" text-anchor="end">0.7</text><text x="38.2" y="91.44" text-anchor="end">0.8</text><text x="38.2" y="56.52" text-anchor="end">0.9</text><text x="38.2" y="21.60" text-anchor="end">1.0</text><text x="300.3" y="192.80" text-anchor="end">0.0</text><text x="300.3" y="151.55" text-anchor="end">0.1</text><text x="300.3" y="110.30" text-anchor="end">0.2</text><text x="300.3" y="69.05" text-anchor="end">0.3</text><text x="300.3" y="27.80" text-anchor="end">0.4</text></g><text x="51.3" y="16.9" font-family="Liberation Serif, serif" font-size="11.5" fill="#1a1a1a">(a)</text><text x="312.3" y="17.1" font-family="Liberation Serif, serif" font-size="11.5" fill="#1a1a1a">(b)</text><text transform="translate(146.3,238) scale(1.3,1)" font-family="Liberation Serif, serif" font-size="17" font-style="italic" text-anchor="middle" fill="#1a1a1a">λ</text><text transform="translate(409.2,238.5) scale(1.3,1)" font-family="Liberation Serif, serif" font-size="17" font-style="italic" text-anchor="middle" fill="#1a1a1a">λ</text><text transform="translate(13.4,103.2) rotate(-90) scale(1.17,1)" font-family="Liberation Serif, serif" font-size="17" text-anchor="middle" fill="#1a1a1a"><tspan font-style="italic">ε</tspan><tspan font-size="20" dy="1.2">/</tspan><tspan font-style="italic" dy="-1.2">ε</tspan><tspan font-size="8.5" dy="3">1</tspan></text><text transform="translate(279,108.7) rotate(-90)" font-family="Liberation Serif, serif" font-size="13.8" text-anchor="middle" fill="#1a1a1a"><tspan font-style="italic">σ</tspan> (MPa)</text><rect x="62.00" y="115.70" width="4.6" height="4.6" fill="none" stroke="#4848d0" stroke-width="1.1"/><path d="M64.30,128.65 L66.90,133.15 L61.70,133.15 Z" fill="none" stroke="#222" stroke-width="1.0"/><circle cx="64.70" cy="145.30" r="2.4" fill="none" stroke="#d84050" stroke-width="1.1"/><text x="78.3" y="120.3" font-family="Liberation Serif, serif" font-size="10.2" fill="#111"><tspan font-style="italic">λ</tspan><tspan x="85.89999999999999">= 0.0013 s</tspan><tspan font-size="5.8" dy="-4.2">−1</tspan></text><text x="80.3" y="117.7" font-family="Liberation Serif, serif" font-size="10.2" fill="#111">˙</text><text x="78.3" y="133.95" font-family="Liberation Serif, serif" font-size="10.2" fill="#111"><tspan font-style="italic">λ</tspan><tspan x="85.89999999999999">= 0.012 s</tspan><tspan font-size="5.8" dy="-4.2">−1</tspan></text><text x="80.3" y="131.35" font-family="Liberation Serif, serif" font-size="10.2" fill="#111">˙</text><text x="78.3" y="147.6" font-family="Liberation Serif, serif" font-size="10.2" fill="#111"><tspan font-style="italic">λ</tspan><tspan x="85.89999999999999">= 0.059 s</tspan><tspan font-size="5.8" dy="-4.2">−1</tspan></text><text x="80.3" y="145.0" font-family="Liberation Serif, serif" font-size="10.2" fill="#111">˙</text><rect x="325.00" y="44.80" width="4.6" height="4.6" fill="none" stroke="#4848d0" stroke-width="1.1"/><path d="M327.30,58.10 L329.90,62.60 L324.70,62.60 Z" fill="none" stroke="#222" stroke-width="1.0"/><circle cx="327.70" cy="75.10" r="2.4" fill="none" stroke="#d84050" stroke-width="1.1"/><text x="340.8" y="49.4" font-family="Liberation Serif, serif" font-size="10.2" fill="#111"><tspan font-style="italic">λ</tspan><tspan x="348.40000000000003">= 0.0013 s</tspan><tspan font-size="5.8" dy="-4.2">−1</tspan></text><text x="342.8" y="46.8" font-family="Liberation Serif, serif" font-size="10.2" fill="#111">˙</text><text x="340.8" y="63.4" font-family="Liberation Serif, serif" font-size="10.2" fill="#111"><tspan font-style="italic">λ</tspan><tspan x="348.40000000000003">= 0.012 s</tspan><tspan font-size="5.8" dy="-4.2">−1</tspan></text><text x="342.8" y="60.8" font-family="Liberation Serif, serif" font-size="10.2" fill="#111">˙</text><text x="340.8" y="77.4" font-family="Liberation Serif, serif" font-size="10.2" fill="#111"><tspan font-style="italic">λ</tspan><tspan x="348.40000000000003">= 0.059 s</tspan><tspan font-size="5.8" dy="-4.2">−1</tspan></text><text x="342.8" y="74.80000000000001" font-family="Liberation Serif, serif" font-size="10.2" fill="#111">˙</text><path d="M55.9,163.4 H70.9" stroke="#1010d0" stroke-width="1.9"/><text y="164.6" font-family="Liberation Serif, serif" font-size="9.6" fill="#111"><tspan x="75.5" font-style="italic">ε</tspan><tspan x="82.3">/</tspan><tspan x="86.3" font-style="italic">ε</tspan><tspan font-size="6" dy="1.8">1</tspan><tspan x="96.0" dy="-1.8">=</tspan><tspan x="102.60000000000001">−0.43</tspan><tspan x="125.0" font-style="italic">λ</tspan><tspan font-size="5.6" dy="-4.2">3</tspan><tspan x="134.89999999999998" dy="4.2">+</tspan><tspan x="141.35">2.07</tspan><tspan x="159.4" font-style="italic">λ</tspan><tspan font-size="5.6" dy="-4.2">2</tspan><tspan x="169.2" dy="4.2">−</tspan><tspan x="175.29999999999998">3.43</tspan><tspan x="192.4" font-style="italic">λ</tspan><tspan x="199.1">+</tspan><tspan x="206.0">2.78</tspan></text><path d="M55.9,178.9 H70.9" stroke="#000" stroke-width="1.9"/><text y="180.5" font-family="Liberation Serif, serif" font-size="9.6" fill="#111"><tspan x="75.85" font-style="italic">ε</tspan><tspan x="82.89999999999999">/</tspan><tspan x="87.1" font-style="italic">ε</tspan><tspan font-size="6" dy="1.8">1</tspan><tspan x="96.60000000000001" dy="-1.8">=</tspan><tspan x="103.45">−0.45</tspan><tspan x="125.6" font-style="italic">λ</tspan><tspan font-size="5.6" dy="-4.2">3</tspan><tspan x="136.29999999999998" dy="4.2">+</tspan><tspan x="141.9">2.07</tspan><tspan x="158.29999999999998" font-style="italic">λ</tspan><tspan font-size="5.6" dy="-4.2">2</tspan><tspan x="169.45" dy="4.2">−</tspan><tspan x="176.5">3.39</tspan><tspan x="193.35" font-style="italic">λ</tspan><tspan x="200.6">+</tspan><tspan x="206.79999999999998">2.75</tspan></text><path d="M55.9,194.9 H70.9" stroke="#e01030" stroke-width="1.9"/><text y="196.0" font-family="Liberation Serif, serif" font-size="9.6" fill="#111"><tspan x="77.69999999999999" font-style="italic">ε</tspan><tspan x="84.2">/</tspan><tspan x="88.35" font-style="italic">ε</tspan><tspan font-size="6" dy="1.8">1</tspan><tspan x="97.8" dy="-1.8">=</tspan><tspan x="105.0">−0.49</tspan><tspan x="127.5" font-style="italic">λ</tspan><tspan font-size="5.6" dy="-4.2">3</tspan><tspan x="136.7" dy="4.2">+</tspan><tspan x="142.9">1.94</tspan><tspan x="160.7" font-style="italic">λ</tspan><tspan font-size="5.6" dy="-4.2">2</tspan><tspan x="169.45" dy="4.2">−</tspan><tspan x="177.0">2.78</tspan><tspan x="193.35" font-style="italic">λ</tspan><tspan x="201.1">+</tspan><tspan x="207.29999999999998">2.23</tspan></text></svg>
</body></html>
